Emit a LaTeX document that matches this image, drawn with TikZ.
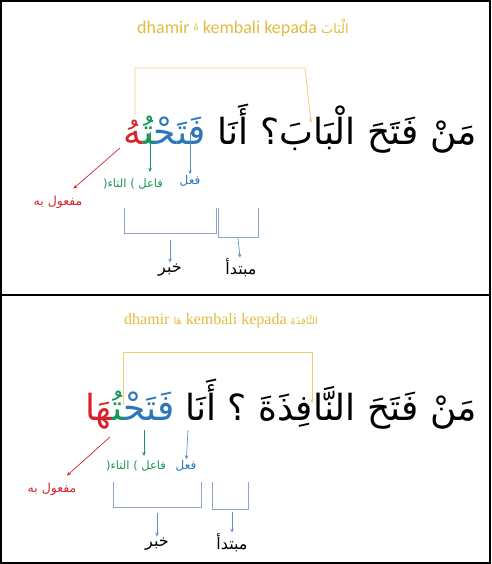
\documentclass[tikz,border=0pt]{standalone}
\usepackage{fontspec}
\setmainfont{Carlito}
\newfontfamily\arabicfont[Script=Arabic]{DejaVu Sans}
\newfontfamily\ttlserif{Liberation Serif}
\TeXXeTstate=1
\usetikzlibrary{positioning}
\usetikzlibrary{arrows.meta}

\definecolor{ttlgold}{RGB}{226,188,62}
\definecolor{lnyellow}{RGB}{238,206,112}
\definecolor{fiblue}{RGB}{44,118,186}
\definecolor{fagreen}{RGB}{24,150,86}
\definecolor{mfred}{RGB}{214,36,44}
\definecolor{brgray}{RGB}{140,165,200}
\definecolor{brarrow}{RGB}{96,142,204}

\tikzset{
  sent/.style={inner sep=0pt, font=\arabicfont\fontsize{36}{40}\selectfont},
  ttl/.style={inner sep=1pt, text=ttlgold},
  lblfi/.style={inner sep=1pt, text=fiblue, font=\arabicfont\fontsize{12}{14}\selectfont},
  lblfa/.style={inner sep=1pt, text=fagreen, font=\arabicfont\fontsize{11.5}{14}\selectfont},
  lblmf/.style={inner sep=1pt, text=mfred, font=\arabicfont\fontsize{12.5}{14}\selectfont},
  lblbk/.style={inner sep=1pt, text=black, font=\arabicfont\fontsize{16}{18}\selectfont},
  ylwline/.style={draw=lnyellow, line width=0.8pt, -{Stealth[length=4pt,width=3.5pt]}},
  fiarr/.style={draw=fiblue!80, line width=0.7pt, -{Stealth[length=4pt,width=3.5pt]}},
  faarr/.style={draw=fagreen, line width=0.7pt, -{Stealth[length=4pt,width=3.5pt]}},
  mfarr/.style={draw=mfred, line width=0.7pt, -{Stealth[length=4pt,width=3.5pt]}},
  brk/.style={draw=brgray, line width=0.9pt},
  brarr/.style={draw=brarrow, line width=0.7pt, -{Stealth[length=4pt,width=3.5pt]}}
}
% green label, pieces set left to right as printed
\newcommand{\faeil}{\mbox{(}\mbox{\beginR التاء\endR}\ \mbox{)}\ \mbox{\beginR فاعل\endR}}

\begin{document}
\begin{tikzpicture}[x=1pt, y=-1pt]
    \useasboundingbox (0,0) rectangle (491,564);
    % frame
    \draw[line width=1.6pt] (1,1) rectangle (490,563);
    \draw[line width=1.6pt] (1,295) -- (490,295);

    % ---- upper panel ----
    % Nodes
    \node [ttl, font=\fontsize{18}{20}\selectfont] (ttlA) at (243,28)
      {dhamir {\arabicfont\fontsize{10}{11}\selectfont\raisebox{3pt}{\beginR هُ\endR}} kembali kepada {\arabicfont\fontsize{13}{15}\selectfont\beginR الْبَابَ\endR}};
    \node [sent, anchor=base east] (sntA) at (477,145)
      {\beginR مَنْ فَتَحَ الْبَابَ؟ أَنَا\endR};
    \node [sent, anchor=base east] (wrdA) at ([xshift=-12pt]sntA.base west)
      {{\color{mfred}^^^^200dهُ}{\color{fagreen}^^^^200dتُ^^^^200d}{\color{fiblue}فَتَحْ^^^^200d}};
    \node [lblfi] (fiA) at (190,181) {\beginR فعل\endR};
    \node [lblfa] (faA) at (133,184) {\faeil};
    \node [lblmf] (mfA) at (58,202) {\beginR مفعول به\endR};
    \node [lblbk] (khbA) at (170,270) {\beginR خبر\endR};
    \node [lblbk] (mubA) at (241,268) {\beginR مبتدأ\endR};
    \coordinate (dmA) at (135,115);
    \coordinate (bbA) at (311,123);
    \coordinate (fitA) at (190,132);
    \coordinate (fatA) at (150,132);
    \coordinate (hA) at (120,148);
    \coordinate (k1A) at (170,240);
    \coordinate (k2A) at (238,238);
    % Arrows
    \draw [ylwline] (dmA) |- (305,68) -- (bbA);
    \draw [fiarr] (fitA) -- (fiA);
    \draw [faarr] (fatA) -- (150,172);
    \draw [mfarr, shorten >=9pt] (hA) -- (mfA);
    \draw [brk] (124,208) |- (216,233) -- (216,208);
    \draw [brk] (218,208) |- (258,237) -- (258,208);
    \draw [brarr] (k1A) -- (khbA);
    \draw [brarr] (k2A) -- (mubA);

    % ---- lower panel ----
    % Nodes
    \node [ttl, font=\ttlserif\fontsize{16}{18}\selectfont] (ttlB) at (221,321)
      {dhamir {\arabicfont\fontsize{10}{11}\selectfont\beginR هَا\endR} kembali kepada {\arabicfont\fontsize{10}{12}\selectfont\beginR النَّافِذَةَ\endR}};
    \node [sent, anchor=base east] (sntB) at (477,420)
      {\beginR مَنْ فَتَحَ النَّافِذَةَ ؟ أَنَا\endR};
    \node [sent, anchor=base east] (wrdB) at ([xshift=-10pt]sntB.base west)
      {{\color{mfred}^^^^200dهَا}{\color{fagreen}^^^^200dتُ^^^^200d}{\color{fiblue}فَتَحْ^^^^200d}};
    \node [lblfi] (fiB) at (186,466) {\beginR فعل\endR};
    \node [lblfa] (faB) at (136,466) {\faeil};
    \node [lblmf] (mfB) at (52,489) {\beginR مفعول به\endR};
    \node [lblbk] (khbB) at (157,544) {\beginR خبر\endR};
    \node [lblbk] (mubB) at (232,543) {\beginR مبتدأ\endR};
    \coordinate (dmB) at (123,405);
    \coordinate (bbB) at (312,403);
    \coordinate (fitB) at (188,430);
    \coordinate (fatB) at (144,430);
    \coordinate (hB) at (110,437);
    \coordinate (k1B) at (157,513);
    \coordinate (k2B) at (232,512);
    % Arrows
    \draw [ylwline] (dmB) |- (312,352) -- (bbB);
    \draw [fiarr] (fitB) -- (fiB);
    \draw [faarr] (fatB) -- (144,456);
    \draw [mfarr, shorten >=9pt] (hB) -- (mfB);
    \draw [brk] (113,482) |- (201,507) -- (201,482);
    \draw [brk] (212,482) |- (248,509) -- (248,482);
    \draw [brarr] (k1B) -- (khbB);
    \draw [brarr] (k2B) -- (mubB);
\end{tikzpicture}
\end{document}
